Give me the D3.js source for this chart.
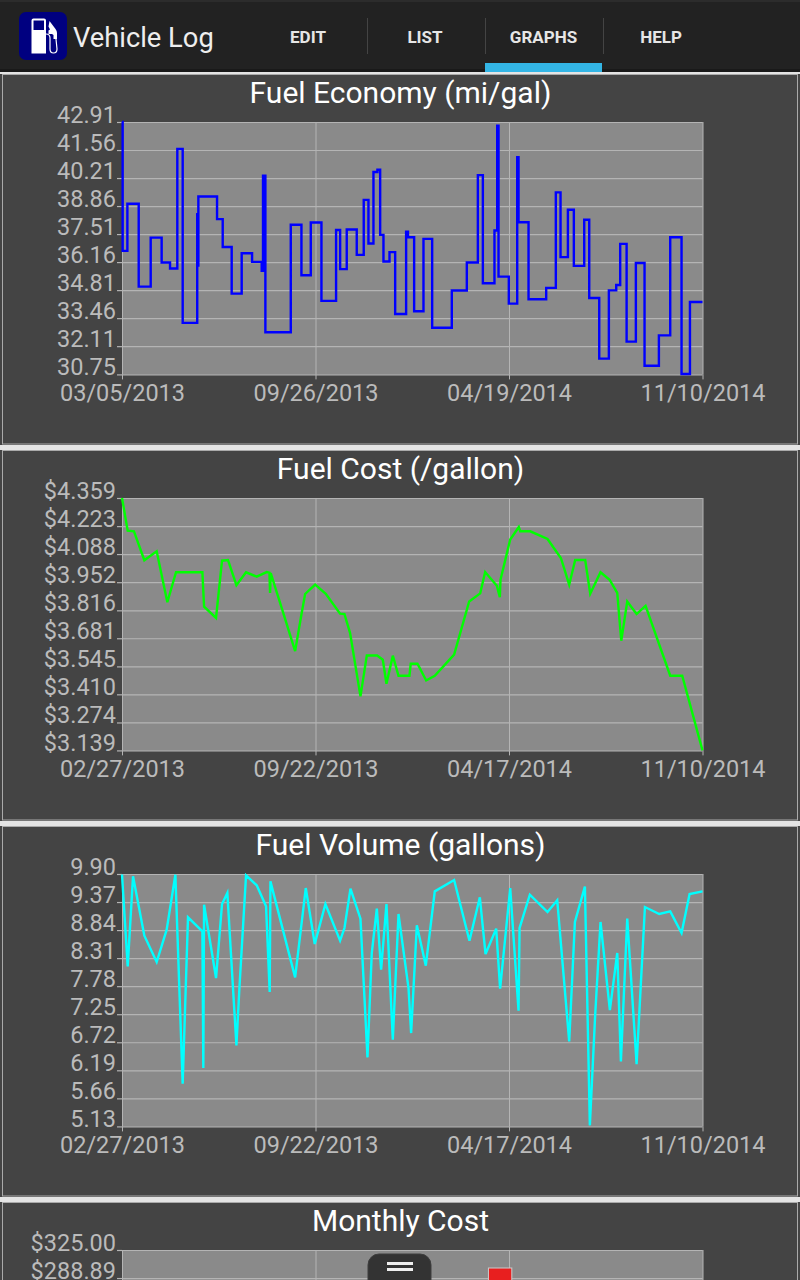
<!DOCTYPE html>
<html>
<head>
<meta charset="utf-8">
<title>Vehicle Log</title>
<script src="https://cdnjs.cloudflare.com/ajax/libs/d3/7.8.5/d3.min.js"></script>
<style>
  html, body { margin: 0; padding: 0; background: #e4e4e4; overflow: hidden; }
  svg { display: block; font-family: Roboto, sans-serif; }
</style>
</head>
<body>
<svg id="screen" width="800" height="1280"></svg>
<script>
// Day offsets are counted from each chart's first date label.
const economyTicks = ["42.91","41.56","40.21","38.86","37.51","36.16","34.81","33.46","32.11","30.75"];
const economyDates = ["03/05/2013","09/26/2013","04/19/2014","11/10/2014"];
const economyDays = [0,0.7,5.7,17.7,30.4,42,50.9,58.6,64.3,79.7,80.2,80.9,100.7,106.7,116.2,126.8,137.8,148,149.4,150.5,151.6,151.9,178.8,190.1,200,211.3,226.8,231.1,238.1,248.7,256.1,261.1,266.4,270.6,273.5,277,283.4,289.4,301,303,309.5,319.4,328.6,349.4,365.3,377,382.3,394.6,397.5,398.9,409.8,418.7,420.1,430.7,449.4,459.6,464.6,472.4,478.7,489.7,495,505.6,515.8,523.6,527.8,534.6,544.4,553.6,568.8,580.8,592.8,601.7,615];
const economyValues = [42.91,36.7,38.97,34.98,37.34,36.14,35.85,41.61,33.23,38.47,35.99,39.32,38.23,36.89,34.64,36.59,36.17,35.74,40.32,36.19,40.32,32.78,37.96,35.53,38.07,34.29,37.71,35.82,37.73,36.51,39.16,37.06,40.5,40.61,37.47,36.19,36.64,33.66,37.63,37.36,33.79,37.28,33,34.79,36.14,40.35,35.14,37.68,42.73,35.46,34.16,41.22,38.08,34.37,34.92,39.52,36.4,38.68,35.98,38.2,34.43,31.51,34.8,35.06,37.04,32.33,36.12,31.17,32.63,37.36,30.77,34.24,34.24];

const costTicks = ["$4.359","$4.223","$4.088","$3.952","$3.816","$3.681","$3.545","$3.410","$3.274","$3.139"];
const sharedDates = ["02/27/2013","09/22/2013","04/17/2014","11/10/2014"];
const costDays = [0,6.1,12.8,23.9,37.1,48.5,57.8,86,87.8,100.6,107,113.4,122.4,132.7,144.1,154.8,157.7,158.4,159.1,170.9,185.2,191.9,195.9,206.6,218,233.3,238,244,255.1,261.9,272.9,279,282.9,289.7,295.8,307.5,308.9,316.1,325.4,334.6,355.3,371.4,383.2,388.5,401,404.2,404.9,415.3,424.5,426,436.7,455.2,469.5,478.4,484.8,495.5,500.9,511.9,521.6,529.8,534.1,540.5,550.5,560.1,586.5,599.3,621];
const costValues = [4.359,4.201,4.198,4.058,4.101,3.855,4,4,3.834,3.779,4.056,4.059,3.938,4,3.979,4.001,3.998,3.9,3.996,3.827,3.619,3.795,3.895,3.94,3.896,3.8,3.798,3.706,3.4,3.598,3.598,3.577,3.461,3.597,3.5,3.5,3.558,3.558,3.477,3.5,3.602,3.859,3.898,4.001,3.935,3.88,3.964,4.158,4.219,4.198,4.198,4.161,4.069,3.94,4.059,4.059,3.896,4,3.964,3.9,3.669,3.859,3.798,3.838,3.5,3.5,3.139];

const volumeTicks = ["9.90","9.37","8.84","8.31","7.78","7.25","6.72","6.19","5.66","5.13"];
const volumeDays = [0,6.1,11.8,23.9,37.1,47.8,57.1,64.9,70.6,86,87,87.8,100.6,107,112.7,122.4,125.6,132.7,144.1,154.1,158,158.8,185.2,196.6,206.2,217.6,233.3,238,244.4,255.1,262.6,267.2,272.6,277.2,282.9,289.7,295.8,306.5,309.3,315.4,325,334.6,355.3,371.7,382.8,388.9,400.3,404.5,415.3,424.2,425.3,436.3,455.2,465.6,478.4,484.5,495.2,500.5,506.2,511.9,521.9,529.8,533.7,540.5,550.5,559.4,574.7,586.5,598.6,607.2,621];
const volumeValues = [9.89,8.155,9.856,8.734,8.236,8.848,9.887,5.937,9.081,8.816,6.233,9.32,7.934,9.333,9.541,6.661,7.745,9.875,9.686,9.289,7.669,9.761,7.947,9.635,8.577,9.333,8.64,8.879,9.623,9.056,6.434,8.407,9.245,8.092,9.333,6.768,9.144,7.745,6.894,8.93,8.167,9.572,9.787,8.64,9.459,8.388,8.867,7.732,9.635,7.317,8.879,9.509,9.182,9.402,6.737,8.993,9.661,5.149,7.241,8.993,7.329,8.407,6.359,9.056,6.308,9.276,9.144,9.194,8.785,9.522,9.572];

// The monthly card runs past the bottom of the screen; only its top is on view.
const monthlyTicks = ["$325.00","$288.89"];
const monthlyFloor = 0;
const monthlyBarDays = [392];
const monthlyBarSpan = [25];
const monthlyBarValues = [301.8];

const svg = d3.select("#screen");
const plotLeft = 122, plotRight = 702.5, plotHeight = 252.4;
const money = s => +s.replace("$", "");
const gridColour = "#b4b4b4";

// Tabs and application bar
const tabs = [["EDIT",308],["LIST",425],["GRAPHS",543.5],["HELP",661]];
const dividers = [367,485,603];

function drawBar() {
  const bar = svg.append("g");
  bar.append("rect").attr("width", 800).attr("height", 72).attr("fill", "#222");
  bar.append("rect").attr("width", 800).attr("height", 2).attr("fill", "#2c2c2c");
  bar.append("rect").attr("y", 69).attr("width", 800).attr("height", 3).attr("fill", "#191919");
  bar.append("rect").attr("x", 19).attr("y", 12).attr("width", 48).attr("height", 48).attr("rx", 7).attr("fill", "#000080");
  // Fuel pump glyph: body with window, nozzle and hose
  bar.append("path").attr("fill", "#fff").attr("fill-rule", "evenodd")
    .attr("d", "M33.500 18.500h10.500q2 0 2 2v33h-14.500v-33q0-2 2-2z M33.500 20.500v9.500h10.500v-9.500z");
  bar.append("path").attr("fill", "#fff")
    .attr("d", "M49.500 21l6 8q1.500 2 1.500 4v6h-3.500v-4l-1.500-1-3.500 0v-3.500l1.500-1-1.500-3z");
  bar.append("path").attr("fill", "none").attr("stroke", "#fff").attr("stroke-width", 1.2)
    .attr("d", "M46 34q4 0 4 4v11q0 4 3.500 4t3.500-4l-1-10");
  bar.append("text").attr("x", 73).attr("y", 47).attr("font-size", 27.3).attr("fill", "#eee").text("Vehicle Log");
  bar.selectAll("text.tab").data(tabs).join("text").attr("class", "tab")
    .attr("x", d => d[1]).attr("y", 42.5).attr("text-anchor", "middle")
    .attr("font-size", 17).attr("font-weight", 700).attr("fill", "#e6e6e6").text(d => d[0]);
  bar.selectAll("line.div").data(dividers).join("line").attr("class", "div")
    .attr("x1", d => d + 0.5).attr("x2", d => d + 0.5).attr("y1", 18).attr("y2", 54)
    .attr("stroke", "#444");
  bar.append("rect").attr("x", 485).attr("y", 63).attr("width", 117).attr("height", 9).attr("fill", "#33b5e5");
}

// One card: frame, title, grid, axes, and a callback for its marks.
function drawCard(top, title, tickLabels, dateLabels, xMax, floor, drawMarks) {
  const card = svg.append("g");
  card.append("rect").attr("x", 0).attr("y", top + 1).attr("width", 800).attr("height", 371)
    .attr("fill", "#444");
  card.append("rect").attr("x", 2.5).attr("y", top + 1.5).attr("width", 795).attr("height", 369.5)
    .attr("fill", "none").attr("stroke", "#aaa");
  card.append("text").attr("x", 400.5).attr("y", top + 30).attr("text-anchor", "middle")
    .attr("font-size", 30).attr("fill", "#fff").text(title);

  const plotTop = top + 49;
  const plotBottom = plotTop + plotHeight;
  const values = tickLabels.map(money);
  const y = d3.scaleLinear().domain([floor, values[0]]).range([plotBottom, plotTop]);
  const x = d3.scaleLinear().domain([0, xMax]).range([plotLeft, plotRight]);
  const dateTicks = dateLabels.map((_, i) => i * xMax / (dateLabels.length - 1));

  card.append("rect").attr("x", plotLeft).attr("y", plotTop).attr("width", 581)
    .attr("height", plotHeight).attr("fill", "#8a8a8a");

  const yAxis = d3.axisLeft(y).tickValues(values).tickSize(5)
    .tickFormat((d, i) => tickLabels[i]);
  const yG = card.append("g").attr("transform", `translate(${plotLeft},0)`).call(yAxis);
  yG.select(".domain").remove();
  yG.selectAll(".tick line").attr("stroke", gridColour).attr("stroke-width", 1.2);
  yG.selectAll(".tick text").attr("fill", "#bbb").attr("font-size", 23.5)
    .attr("font-family", "Roboto, sans-serif").attr("x", -6).attr("dy", "0");
  yG.selectAll(".tick").append("line").attr("x2", plotRight - plotLeft)
    .attr("stroke", gridColour).attr("stroke-width", 1.2);

  const xAxis = d3.axisBottom(x).tickValues(dateTicks).tickSize(5)
    .tickFormat((d, i) => dateLabels[i]);
  const xG = card.append("g").attr("transform", `translate(0,${plotBottom})`).call(xAxis);
  xG.select(".domain").remove();
  xG.selectAll(".tick line").attr("stroke", gridColour);
  xG.selectAll(".tick text").attr("fill", "#bbb").attr("font-size", 23.5)
    .attr("font-family", "Roboto, sans-serif").attr("y", 10);
  // Date labels that would fall below the screen are left out.
  if (plotBottom > 1280) xG.selectAll(".tick text").remove();
  xG.selectAll(".tick").append("line").attr("y2", -plotHeight)
    .attr("stroke", gridColour);

  drawMarks(card, x, y);
}

function lineMarks(days, values, colour, curve) {
  return (card, x, y) => {
    const line = d3.line().x((d, i) => x(days[i])).y(d => y(d)).curve(curve);
    card.append("path").attr("d", line(values)).attr("fill", "none")
      .attr("stroke", colour).attr("stroke-width", 2.4).attr("stroke-linejoin", "miter");
  };
}

svg.append("rect").attr("width", 800).attr("height", 1280).attr("fill", "#e4e4e4");
drawBar();
drawCard(73, "Fuel Economy (mi/gal)", economyTicks, economyDates, 615, 30.75,
  lineMarks(economyDays, economyValues, "#0000ff", d3.curveStepAfter));
drawCard(449, "Fuel Cost (/gallon)", costTicks, sharedDates, 621, 3.139,
  lineMarks(costDays, costValues, "#00ff00", d3.curveLinear));
drawCard(825, "Fuel Volume (gallons)", volumeTicks, sharedDates, 621, 5.13,
  lineMarks(volumeDays, volumeValues, "#00ffff", d3.curveLinear));
drawCard(1201, "Monthly Cost", monthlyTicks, sharedDates, 621, monthlyFloor, (card, x, y) => {
  card.selectAll("rect.bar").data(monthlyBarValues).join("rect").attr("class", "bar")
    .attr("x", (d, i) => x(monthlyBarDays[i]))
    .attr("width", (d, i) => x(monthlyBarDays[i] + monthlyBarSpan[i]) - x(monthlyBarDays[i]))
    .attr("y", d => y(d)).attr("height", d => y(0) - y(d))
    .attr("fill", "#e81f1f").attr("stroke", "#ccc");
});

// Pull handle resting on the bottom edge of the screen
const handle = svg.append("g");
handle.append("rect").attr("x", 368).attr("y", 1254).attr("width", 63).attr("height", 50).attr("rx", 11)
  .attr("fill", "#333").attr("stroke", "#3e3e3e");
handle.append("rect").attr("x", 387).attr("y", 1262).attr("width", 26).attr("height", 3).attr("fill", "#eee");
handle.append("rect").attr("x", 387).attr("y", 1268).attr("width", 26).attr("height", 3).attr("fill", "#eee");
</script>
</body>
</html>
